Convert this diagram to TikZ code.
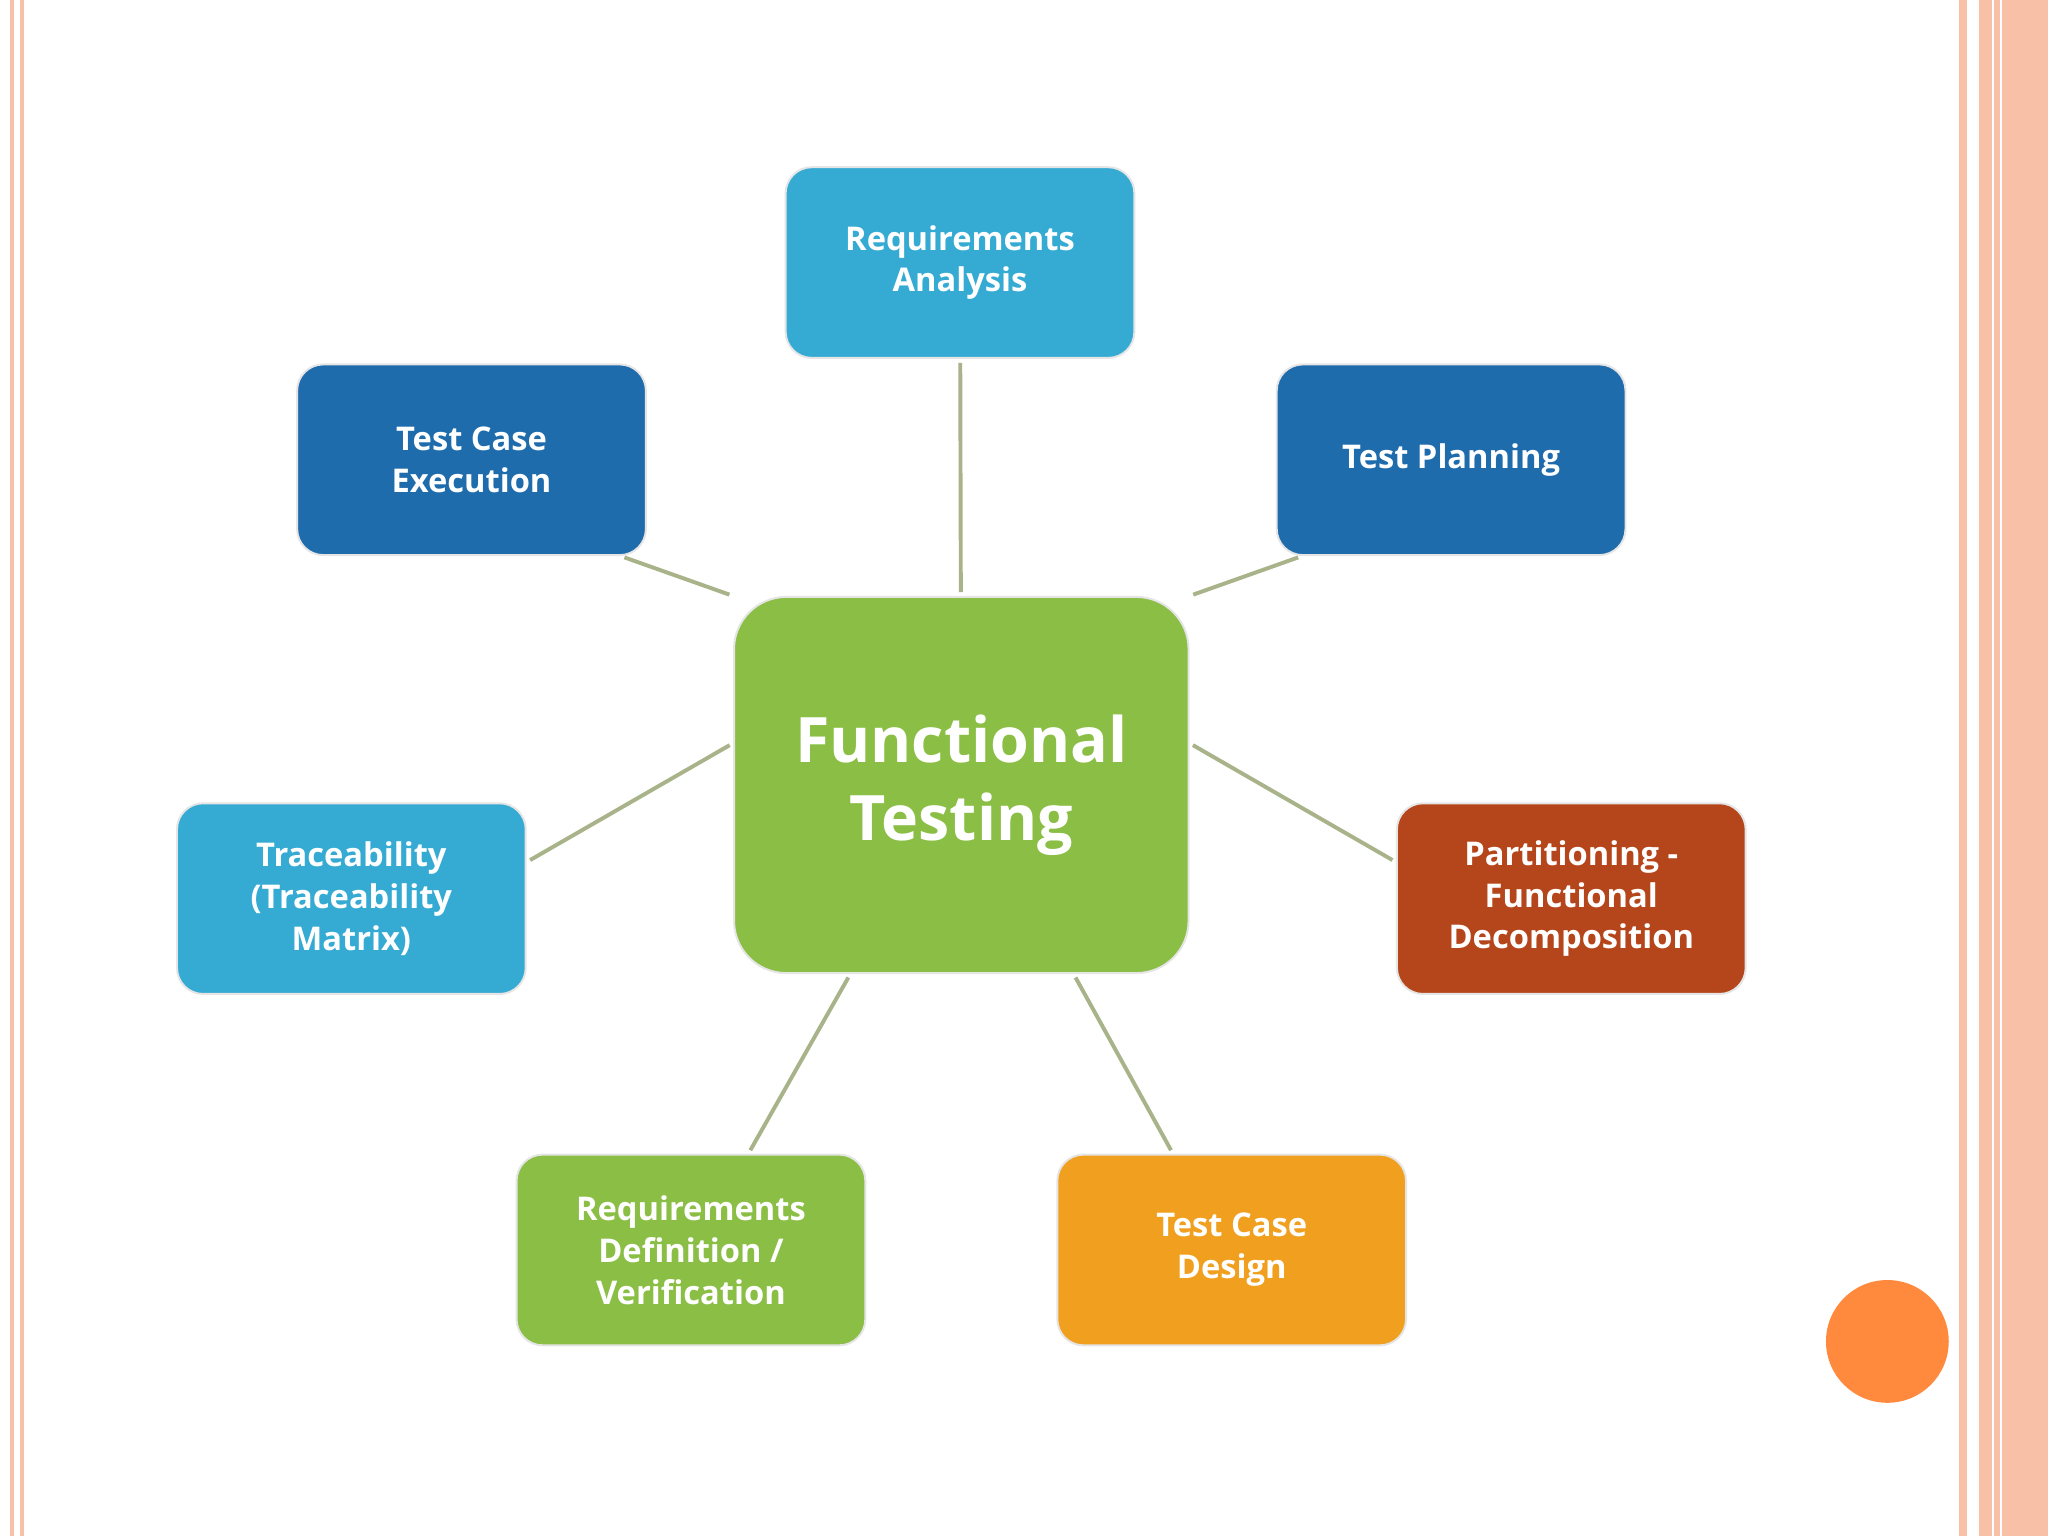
\documentclass[tikz,border=0pt]{standalone}
\usepackage{fontspec}
\setmainfont{Open Sans}
\definecolor{lblue}{HTML}{35ABD3}
\definecolor{dblue}{HTML}{1F6CAD}
\definecolor{fgreen}{HTML}{8BBE45}
\definecolor{rust}{HTML}{B5461B}
\definecolor{orng}{HTML}{F0A01E}
\definecolor{conn}{HTML}{A9B38A}
\definecolor{salmon}{HTML}{F9C0A8}
\definecolor{dot}{HTML}{FF8A3D}
\begin{document}
\begin{tikzpicture}[x=1pt,y=-1pt,
  box/.style={draw=white!90!black,line width=1.5pt,rounded corners=20pt,text=white,font=\bfseries\fontsize{25}{32}\selectfont,align=center,minimum width=267pt,minimum height=146pt,inner sep=0pt},
  link/.style={draw=conn,line width=3pt,shorten <=3pt,shorten >=3pt}]
\useasboundingbox (0,0) rectangle (1568,1176);
\fill[white] (0,0) rectangle (1568,1176);
\fill[salmon] (8,0) rectangle (18,1176);
\fill[white] (11,0) rectangle (15,1176);
\fill[salmon] (1500,0) rectangle (1568,1176);
\fill[white] (1506,0) rectangle (1515,1176);
\draw[white,line width=1.5pt] (1526,0) -- (1526,1176) (1532,0) -- (1532,1176);
\node[box,fill=fgreen,minimum width=348pt,minimum height=288pt,rounded corners=40pt,font=\bfseries\fontsize{48}{60}\selectfont] (c) at (736,601) {Functional\\Testing};
\node[box,fill=lblue] (ra) at (735,201) {Requirements\\Analysis};
\node[box,fill=dblue] (tce) at (361,352) {Test Case\\Execution};
\node[box,fill=dblue] (tp) at (1111,352) {Test Planning};
\node[box,fill=lblue] (tr) at (269,688) {Traceability\\(Traceability\\Matrix)};
\node[box,fill=rust] (pa) at (1203,688) {Partitioning -\\Functional\\Decomposition};
\node[box,fill=fgreen] (rd) at (529,957) {Requirements\\Definition /\\Verification};
\node[box,fill=orng] (tcd) at (943,957) {Test Case\\Design};
\draw[link] (ra) -- (c);
\draw[link] (tce.south east) ++(-20,0) coordinate (a1) (a1) -- (c.north west);
\draw[link] (tp.south west) ++(20,0) coordinate (a2) (a2) -- (c.north east);
\draw[link] (tr.east) ++(0,-28) coordinate (a3) (a3) -- ([yshift=32]c.west);
\draw[link] (pa.west) ++(0,-28) coordinate (a4) (a4) -- ([yshift=32]c.east);
\draw[link] ([xshift=44]rd.north) -- ([xshift=-85]c.south);
\draw[link] ([xshift=-45]tcd.north) -- ([xshift=86]c.south);
\fill[dot] (1445,1027) circle (47);
\end{tikzpicture}
\end{document}
